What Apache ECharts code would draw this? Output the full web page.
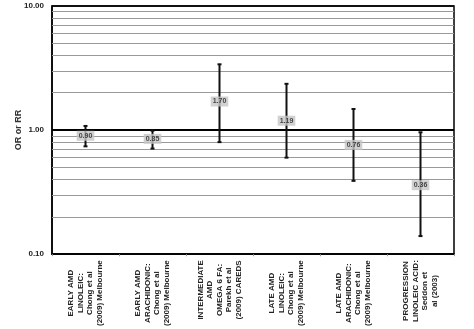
<!DOCTYPE html>
<html><head><meta charset="utf-8">
<script src="https://cdn.jsdelivr.net/npm/echarts@6/dist/echarts.min.js"></script>
<style>html,body{margin:0;padding:0;background:#fff}#c{width:474px;height:329px}</style>
</head><body><div id="c"></div>
<script>
const categories = [
  "EARLY AMD\nLINOLEIC:\nChong et al\n(2009) Melbourne",
  "EARLY AMD\nARACHIDONIC:\nChong et al\n(2009) Melbourne",
  "INTERMEDIATE\nAMD\nOMEGA 6 FA:\nParekh et al\n(2009) CAREDS",
  "LATE AMD\nLINOLEIC:\nChong et al\n(2009) Melbourne",
  "LATE AMD\nARACHIDONIC:\nChong et al\n(2009) Melbourne",
  "PROGRESSION\nLINOLEIC ACID:\nSeddon et\nal (2003)"
];
const estimates = [0.90, 0.85, 1.70, 1.19, 0.76, 0.36];
const lower = [0.74, 0.71, 0.80, 0.60, 0.39, 0.14];
const upper = [1.08, 0.99, 3.39, 2.36, 1.48, 0.96];
const minorGrid = [0.2,0.3,0.4,0.5,0.6,0.7,0.8,0.9,2,3,4,5,6,7,8,9];
const yTicks = [0.1, 1, 10];

const font = '"Liberation Sans", Arial, sans-serif';
const chart = echarts.init(document.getElementById('c'), null, {renderer:'canvas'});
const errData = categories.map((c,i)=>[i, estimates[i], lower[i], upper[i]]);

chart.setOption({
  animation:false,
  grid:{left:52, right:20, top:6, bottom:74, show:true, borderColor:'#000', borderWidth:1.5, backgroundColor:'transparent'},
  xAxis:{
    type:'category', data:categories,
    axisLine:{lineStyle:{color:'#000', width:1.5}},
    axisTick:{show:true, length:2, lineStyle:{color:'#999'}},
    axisLabel:{
      interval:0, rotate:90, margin:6,
      fontFamily:font, fontWeight:'bold', fontSize:8, color:'#222', lineHeight:9.5,
      formatter:(v)=>v.split('\n').map(l=>'{c|'+l+'}').join('\n'),
      rich:{c:{align:'center', fontFamily:font, fontWeight:'bold', fontSize:8, color:'#222', lineHeight:9.5}}
    }
  },
  yAxis:{
    type:'log', logBase:10, min:0.1, max:10,
    name:'OR or RR', nameLocation:'middle', nameGap:29, nameRotate:90, nameMoveOverlap:false,
    nameTextStyle:{fontFamily:font, fontWeight:'bold', fontSize:9, color:'#333'},
    axisLine:{show:true, lineStyle:{color:'#000', width:1.5}},
    axisTick:{show:false},
    axisLabel:{fontFamily:font, fontWeight:'bold', fontSize:8, color:'#222', margin:8,
      formatter:(v)=>{ const t = yTicks.find(x=>Math.abs(x-v)<1e-9*Math.max(1,v)); return (t!==undefined?t:v).toFixed(2); }},
    splitLine:{show:true, lineStyle:{color:'#111', width:2}}
  },
  series:[
    {
      type:'custom', data:errData, z:3,
      renderItem:(params, api)=>{
        const x = api.coord([api.value(0), api.value(2)])[0];
        const yl = api.coord([api.value(0), api.value(2)])[1];
        const yh = api.coord([api.value(0), api.value(3)])[1];
        const st = {stroke:'#111', lineWidth:2};
        return {type:'group', children:[
          {type:'line', shape:{x1:x, y1:yl, x2:x, y2:yh}, style:st},
          {type:'line', shape:{x1:x-2, y1:yl, x2:x+2, y2:yl}, style:st},
          {type:'line', shape:{x1:x-2, y1:yh, x2:x+2, y2:yh}, style:st}
        ]};
      },
      markLine:{
        silent:true, symbol:'none', label:{show:false}, z:1,
        data: minorGrid.map(v=>({yAxis:v, lineStyle:{color:'#999', width:1, type:'solid'}}))
          .concat([{yAxis:1, lineStyle:{color:'#000', width:2.2, type:'solid'}}])
      }
    },
    {
      type:'scatter', data:estimates.map((v,i)=>[i,v]), symbolSize:0.1, z:5,
      itemStyle:{color:'transparent'},
      label:{show:true, position:'inside', formatter:(p)=>p.value[1].toFixed(2),
        fontFamily:font, fontWeight:'bold', fontSize:7, color:'#222',
        backgroundColor:'#c6c6c6', padding:[2,2,1,2]}
    }
  ]
});
</script></body></html>
